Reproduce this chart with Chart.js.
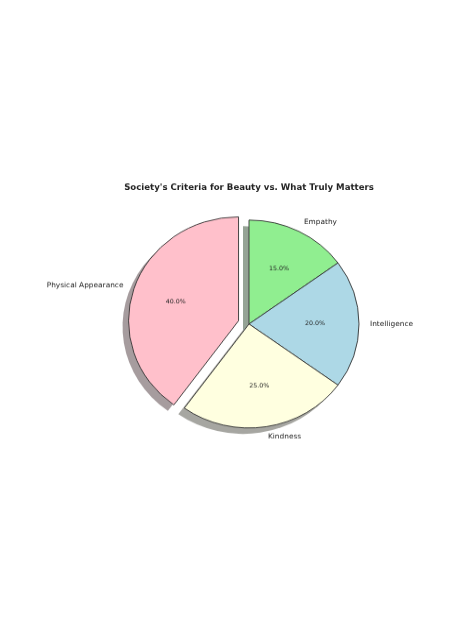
<!DOCTYPE html>
<html>
<head>
<meta charset="utf-8">
<script src="https://cdn.jsdelivr.net/npm/chart.js@4.4.0/dist/chart.umd.min.js"></script>
<style>
  html, body { margin: 0; padding: 0; background: #fff; overflow: hidden; }
  #wrap { width: 474px; height: 669px; transform: scaleY(0.945); transform-origin: 0 0; }
</style>
</head>
<body>
<div id="wrap"><canvas id="graph"></canvas></div>
<script>
const labels = ['Empathy', 'Intelligence', 'Kindness', 'Physical Appearance']
const shares = [15, 20, 25, 40]
const colors = ['#90ee90', '#add8e6', '#ffffe0', '#ffc0cb']
const explode = [0, 0, 0, 0.1]
const titleText = "Society's Criteria for Beauty vs. What Truly Matters"

const textColor = '#222'

// matplotlib style shadow: face colour * 0.3 at half alpha
const shadowColor = (hex) => {
    const n = parseInt(hex.slice(1), 16)
    const r = Math.round(((n >> 16) & 255) * 0.3)
    const g = Math.round(((n >> 8) & 255) * 0.3)
    const b = Math.round((n & 255) * 0.3)
    return `rgba(${r},${g},${b},0.5)`
}

const shift = (arc, i) => {
    const mid = (arc.startAngle + arc.endAngle) / 2
    const d = explode[i] * arc.outerRadius
    return [Math.cos(mid) * d, Math.sin(mid) * d]
}

const piePlugin = {
    id: 'piePlugin',
    beforeDatasetsDraw(chart) {
        const ctx = chart.ctx
        const arcs = chart.getDatasetMeta(0).data

        // pull the exploded wedge out along its middle angle
        arcs.forEach((arc, i) => {
            if (explode[i] && !arc._exploded) {
                const base = arc.draw
                arc.draw = function (c, area) {
                    const [dx, dy] = shift(this, i)
                    c.save()
                    c.translate(dx, dy)
                    base.call(this, c, area)
                    c.restore()
                }
                arc._exploded = true
            }
        })

        // shadows under every wedge
        arcs.forEach((arc, i) => {
            const [dx, dy] = shift(arc, i)
            const cx = arc.x + dx - 6
            const cy = arc.y + dy + 6.3
            ctx.save()
            ctx.beginPath()
            ctx.moveTo(cx, cy)
            ctx.arc(cx, cy, arc.outerRadius, arc.startAngle, arc.endAngle)
            ctx.closePath()
            ctx.fillStyle = shadowColor(colors[i])
            ctx.fill()
            ctx.restore()
        })
    },
    afterDatasetsDraw(chart) {
        const ctx = chart.ctx
        const arcs = chart.getDatasetMeta(0).data
        const total = shares.reduce((a, b) => a + b, 0)

        ctx.save()
        ctx.fillStyle = textColor
        ctx.textBaseline = 'middle'
        arcs.forEach((arc, i) => {
            const mid = (arc.startAngle + arc.endAngle) / 2
            const [dx, dy] = shift(arc, i)
            const cx = arc.x + dx
            const cy = arc.y + dy
            const r = arc.outerRadius

            const lx = cx + 1.1 * r * Math.cos(mid)
            const ly = cy + 1.1 * r * Math.sin(mid)
            ctx.font = '7.4px "DejaVu Sans"'
            ctx.textAlign = lx < cx ? 'right' : 'left'
            ctx.fillText(labels[i], lx, ly)

            const px = cx + 0.6 * r * Math.cos(mid)
            const py = cy + 0.6 * r * Math.sin(mid)
            ctx.font = '6.3px "DejaVu Sans"'
            ctx.textAlign = 'center'
            ctx.fillText((shares[i] / total * 100).toFixed(1) + '%', px, py)
        })

        ctx.font = 'bold 8.6px "DejaVu Sans"'
        ctx.textAlign = 'center'
        ctx.fillText(titleText, 249, 198.9)
        ctx.restore()
    }
}

const graph = document.getElementById('graph')

const myChart = new Chart(
    graph,
    {
        type: 'pie',
        data: {
            labels: labels,
            datasets: [
                {
                    data: shares,
                    backgroundColor: colors,
                    borderColor: '#333',
                    borderWidth: 0.9
                }
            ]
        },
        options: {
            responsive: true,
            maintainAspectRatio: false,
            animation: false,
            radius: 110,
            layout: { padding: { left: 24, right: 0, top: 100, bottom: 83.3 } },
            plugins: {
                legend: { display: false },
                tooltip: { enabled: false },
                title: { display: false }
            }
        },
        plugins: [piePlugin]
    }
)
</script>
</body>
</html>
